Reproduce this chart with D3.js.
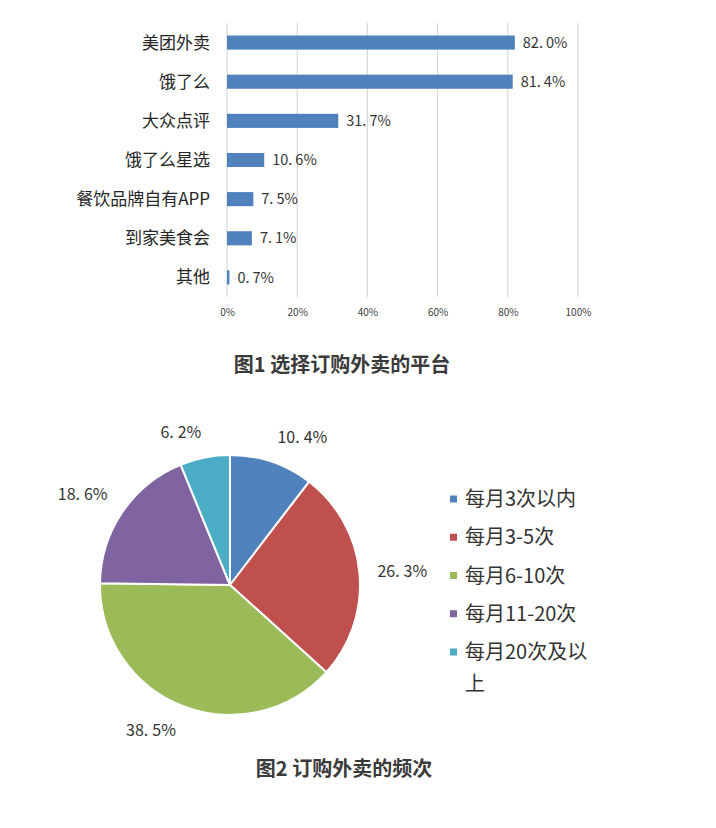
<!DOCTYPE html>
<html>
<head>
<meta charset="utf-8">
<script src="https://cdn.jsdelivr.net/npm/d3@7/dist/d3.min.js"></script>
<style>
  html, body { margin: 0; padding: 0; background: #ffffff; }
  svg { display: block; font-family: "Noto Sans CJK SC", "Noto Sans", sans-serif; }
</style>
</head>
<body>
<svg id="chart" width="716" height="828"></svg>
<script>
// ---- Figure 1 data ----
const platforms = ["美团外卖", "饿了么", "大众点评", "饿了么星选", "餐饮品牌自有APP", "到家美食会", "其他"];
const platformShare = [82.0, 81.4, 31.7, 10.6, 7.5, 7.1, 0.7];
const xTicks = [0, 20, 40, 60, 80, 100];
const title1 = "图1 选择订购外卖的平台";

// ---- Figure 2 data ----
const freqCategories = ["每月3次以内", "每月3-5次", "每月6-10次", "每月11-20次", "每月20次及以上"];
const freqShare = [10.4, 26.3, 38.5, 18.6, 6.2];
const freqColors = ["#4F81BD", "#C0504D", "#9BBB59", "#8064A2", "#4BACC6"];
const title2 = "图2 订购外卖的频次";

const svg = d3.select("#chart");

// ================= Bar chart =================
const x = d3.scaleLinear().domain([0, 100]).range([227, 578]);
const y = d3.scaleBand().domain(platforms).range([23, 297]).paddingInner(0.64).paddingOuter(0.32);

const g1 = svg.append("g");

// gridlines
g1.selectAll("line.grid").data(xTicks).join("line")
  .attr("class", "grid")
  .attr("x1", d => x(d)).attr("x2", d => x(d))
  .attr("y1", 23).attr("y2", 297)
  .attr("stroke", "#d9d9d9").attr("stroke-width", 1.2);

// tick labels via axis
const xAxis = d3.axisBottom(x).tickValues(xTicks).tickFormat(d => d + "%").tickSize(0).tickPadding(0);
const ax = g1.append("g").attr("transform", "translate(0,309)").call(xAxis);
ax.select(".domain").remove();
ax.selectAll("text").attr("font-size", 10).attr("fill", "#404040")
  .attr("font-family", "'Noto Sans CJK SC', sans-serif");

// bars
const data1 = platforms.map((p, i) => ({ name: p, value: platformShare[i] }));
g1.selectAll("rect.bar").data(data1).join("rect")
  .attr("class", "bar")
  .attr("x", x(0))
  .attr("y", d => y(d.name))
  .attr("width", d => x(d.value) - x(0))
  .attr("height", y.bandwidth())
  .attr("fill", "#4F81BD");

// category labels
g1.selectAll("text.cat").data(data1).join("text")
  .attr("class", "cat")
  .attr("x", 210)
  .attr("y", d => y(d.name) + y.bandwidth() / 2)
  .attr("dy", "0.35em")
  .attr("text-anchor", "end")
  .attr("font-size", 17)
  .attr("fill", "#262626")
  .text(d => d.name);

// value labels (wide period like the original)
const fmt = d3.format(".1f");
g1.selectAll("text.val").data(data1).join("text")
  .attr("class", "val")
  .attr("x", d => x(d.value) + 8)
  .attr("y", d => y(d.name) + y.bandwidth() / 2)
  .attr("dy", "0.35em")
  .attr("font-size", 14.5)
  .attr("fill", "#333333")
  .each(function(d) {
    const s = fmt(d.value).split(".");
    const t = d3.select(this);
    t.append("tspan").text(s[0] + ".");
    t.append("tspan").attr("dx", 3).text(s[1] + "%");
  });

svg.append("text")
  .attr("x", 342).attr("y", 372)
  .attr("text-anchor", "middle")
  .attr("font-size", 20).attr("font-weight", "bold")
  .attr("fill", "#3a3a3a")
  .text(title1);

// ================= Pie chart =================
const cx = 230, cy = 585, R = 130;
const data2 = freqCategories.map((c, i) => ({ name: c, value: freqShare[i], color: freqColors[i] }));
const pie = d3.pie().sort(null).value(d => d.value);
const arcs = pie(data2);
const arc = d3.arc().innerRadius(0).outerRadius(R);

const g2 = svg.append("g").attr("transform", `translate(${cx},${cy})`);
g2.selectAll("path").data(arcs).join("path")
  .attr("d", arc)
  .attr("fill", d => d.data.color)
  .attr("stroke", "#ffffff")
  .attr("stroke-width", 2)
  .attr("stroke-linejoin", "round");

// outside labels
const rl = 148;
g2.selectAll("text.plab").data(arcs).join("text")
  .attr("class", "plab")
  .each(function(d) {
    const a = (d.startAngle + d.endAngle) / 2;
    const sx = Math.sin(a), cy_ = -Math.cos(a);
    const px = rl * sx, py = rl * cy_;
    const t = d3.select(this);
    t.attr("x", px).attr("y", py)
      .attr("text-anchor", sx > 0.1 ? "start" : (sx < -0.1 ? "end" : "middle"))
      .attr("dy", cy_ < -0.3 ? "-0.1em" : (cy_ > 0.3 ? "0.8em" : "0.35em"))
      .attr("font-size", 16)
      .attr("fill", "#333333");
    const s = fmt(d.data.value).split(".");
    t.append("tspan").text(s[0] + ".");
    t.append("tspan").attr("dx", 4).text(s[1] + "%");
  });

// legend
const legendY = d3.scalePoint().domain(freqCategories).range([499, 652]);
const lg = svg.append("g");
const maxW = 130;
freqCategories.forEach((c, i) => {
  const yy = legendY(c);
  lg.append("rect")
    .attr("x", 450).attr("y", yy - 3.5)
    .attr("width", 7).attr("height", 7)
    .attr("fill", freqColors[i]);
  const t = lg.append("text")
    .attr("x", 465).attr("y", yy)
    .attr("dy", "0.35em")
    .attr("font-size", 20)
    .attr("fill", "#333333");
  // character wrap
  let line = "";
  let tspan = t.append("tspan").attr("x", 465);
  for (const ch of c) {
    tspan.text(line + ch);
    if (tspan.node().getComputedTextLength() > maxW && line.length > 0) {
      tspan.text(line);
      line = ch;
      tspan = t.append("tspan").attr("x", 465).attr("dy", 32).text(ch);
    } else {
      line += ch;
    }
  }
});

svg.append("text")
  .attr("x", 344).attr("y", 776)
  .attr("text-anchor", "middle")
  .attr("font-size", 20).attr("font-weight", "bold")
  .attr("fill", "#3a3a3a")
  .text(title2);
</script>
</body>
</html>
